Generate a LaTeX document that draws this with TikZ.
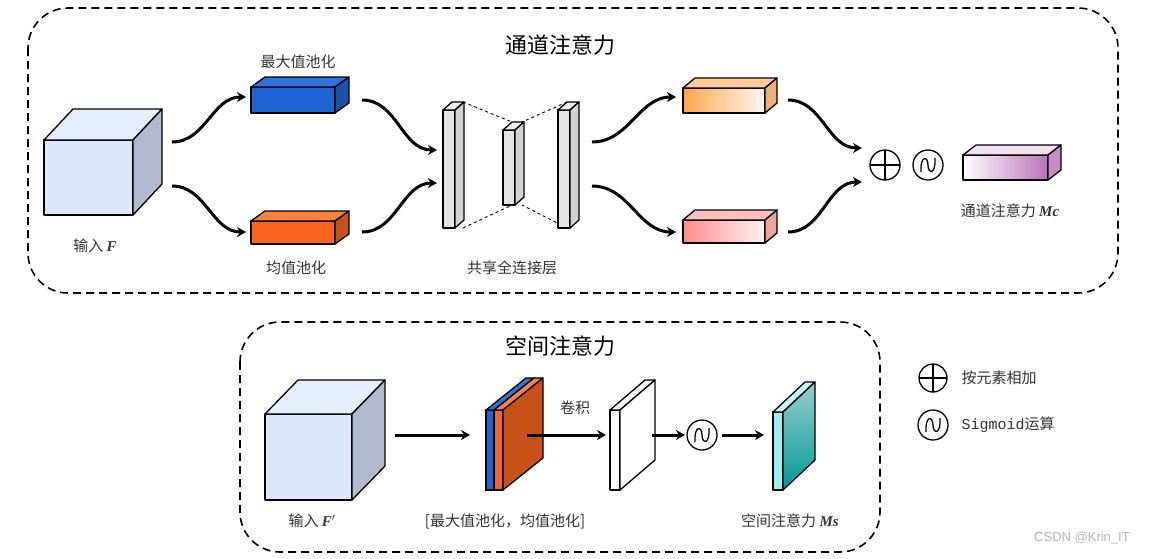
\documentclass[tikz,border=0pt]{standalone}
\usepackage{fontspec}
\setmainfont{Liberation Serif}
\newfontfamily\cjk{Noto Sans CJK SC}
\usetikzlibrary{arrows.meta,calc}
\definecolor{cubef}{RGB}{220,232,250}
\definecolor{cubet}{RGB}{228,238,252}
\definecolor{cubes}{RGB}{176,186,204}
\definecolor{bluef}{RGB}{30,100,210}
\definecolor{bluet}{RGB}{45,115,220}
\definecolor{blues}{RGB}{25,80,170}
\definecolor{oranf}{RGB}{250,100,30}
\definecolor{orant}{RGB}{255,130,60}
\definecolor{orans}{RGB}{200,80,25}
\newcommand\cub[9]{%
 \draw[line width=1.3pt,line join=round,#7] (#1,#2) rectangle (#3,#4);
 \draw[line width=1.3pt,line join=round,fill=#8] (#1,#2)--({#1+#5},{#2-#6})--({#3+#5},{#2-#6})--(#3,#2)--cycle;
 \draw[line width=1.3pt,line join=round,#9] (#3,#2)--({#3+#5},{#2-#6})--({#3+#5},{#4-#6})--(#3,#4)--cycle;}
\newcommand\sigm[1]{%
 \draw[line width=1.3pt] (#1) circle (15);
 \draw[line width=1.3pt] ($(#1)+(-7,7)$) .. controls ($(#1)+(-8,-10)$) and ($(#1)+(0,-9)$) .. (#1) .. controls ($(#1)+(0,9)$) and ($(#1)+(8,10)$) .. ($(#1)+(7,-7)$);}
\newcommand\oplusc[2]{%
 \draw[line width=1.3pt] (#1) circle (#2);
 \draw[line width=1.3pt] ($(#1)+(-#2,0)$)--($(#1)+(#2,0)$) ($(#1)+(0,-#2)$)--($(#1)+(0,#2)$);}
\newcommand\mi[1]{{\rmfamily\bfseries\itshape #1}}
\begin{document}
\begin{tikzpicture}[x=1pt,y=-1pt,
 arr/.style={line width=3pt,-{Stealth[length=9pt,width=10pt]}},
 lab/.style={font=\cjk\fontsize{15}{15}\selectfont,text=black!80},
 ttl/.style={font=\cjk\fontsize{22}{22}\selectfont},
 frame/.style={line width=1.6pt,dash pattern=on 8pt off 5pt,rounded corners=40pt}]
\useasboundingbox (0,0) rectangle (1160,558);
\draw[frame] (28,8) rectangle (1118,293);
\node[ttl] (t1) at (560,45) {通道注意力};
% cube F
\cub{44}{140}{133}{215}{29}{31}{fill=cubef}{cubet}{fill=cubes}
\node[lab] (lF) at (95,246) {输入 \mi{F}};
% pooling bars
\cub{251}{87}{335}{113}{14}{10}{fill=bluef}{bluet}{fill=blues}
\node[lab] (lmax) at (298,62) {最大值池化};
\cub{251}{221}{335}{244}{14}{10}{fill=oranf}{orant}{fill=orans}
\node[lab] (lavg) at (296,268) {均值池化};
% FC layers
\draw[dashed,line width=0.9pt] (463,102)--(512,122) (463,228)--(512,205) (567,102)--(522,122) (567,228)--(522,205);
\cub{443}{110}{455}{228}{9}{8}{fill=gray!22}{gray!15}{fill=gray!35}
\cub{503}{130}{515}{205}{9}{8}{fill=gray!22}{gray!15}{fill=gray!35}
\cub{558}{110}{570}{228}{9}{8}{fill=gray!22}{gray!15}{fill=gray!35}
\node[lab] (lfc) at (512,268) {共享全连接层};
% outputs of MLP
\cub{683}{88}{765}{113}{12}{10}{left color=orange!70,right color=orange!5}{orange!40}{fill=orange!50!brown!60}
\cub{683}{220}{765}{243}{12}{10}{left color=red!45,right color=red!5}{red!25}{fill=red!40!brown!50}
\coordinate (plus) at (885,165);
\coordinate (sg) at (928,165);
\oplusc{plus}{15}
\sigm{sg}
\cub{963}{155}{1048}{180}{13}{10}{left color=white,right color=violet!55}{violet!12}{fill=violet!45}
\node[lab] (lmc) at (1010,211) {通道注意力 \mi{Mc}};
% curvy arrows
\coordinate (a1) at (172,142); \coordinate (b1) at (246,97);
\coordinate (a2) at (172,186); \coordinate (b2) at (246,232);
\coordinate (a3) at (362,100); \coordinate (b3) at (437,150);
\coordinate (a4) at (362,232); \coordinate (b4) at (437,183);
\coordinate (a5) at (592,142); \coordinate (b5) at (676,97);
\coordinate (a6) at (592,186); \coordinate (b6) at (676,232);
\coordinate (a7) at (788,100); \coordinate (b7) at (862,148);
\coordinate (a8) at (788,232); \coordinate (b8) at (862,182);
\foreach \i in {1,...,8}{\draw[arr] (a\i) to[out=0,in=180] (b\i);}
% spatial
\draw[frame] (240,322) rectangle (880,552);
\node[ttl] (t2) at (560,346) {空间注意力};
\cub{265}{414}{352}{500}{33}{34}{fill=cubef}{cubet}{fill=cubes}
\node[lab] (lF2) at (312,521) {输入 \mi{F$'$}};
\coordinate (c1) at (395,435); \coordinate (c2) at (470,435);
\draw[arr] (c1)--(c2);
% stacked slab
\draw[line width=1.3pt,fill=bluef] (486,410) rectangle (494,490);
\draw[line width=1.3pt,fill=bluet] (486,410)--(526,378)--(534,378)--(494,410)--cycle;
\cub{494}{410}{503}{490}{40}{32}{fill=oranf}{orant}{fill=orans}
\node[lab] (lpool) at (505,521) {[最大值池化，均值池化]};
\coordinate (c3) at (527,435); \coordinate (c4) at (606,435);
\draw[arr] (c3)--(c4);
\node[lab] (lconv) at (575,408) {卷积};
\cub{610}{410}{620}{490}{35}{30}{fill=white}{white}{fill=white}
\coordinate (c5) at (652,435); \coordinate (c6) at (685,435);
\draw[arr] (c5)--(c6);
\coordinate (sg2) at (702,435);
\sigm{sg2}
\coordinate (c7) at (722,435); \coordinate (c8) at (764,435);
\draw[arr] (c7)--(c8);
\cub{773}{412}{783}{490}{32}{30}{fill=teal!30!cyan!40}{teal!15!cyan!25}{top color=teal!40,bottom color=teal!80!cyan}
\node[lab] (lms) at (790,521) {空间注意力 \mi{Ms}};
% legend
\coordinate (lg1) at (933,378); \coordinate (lg2) at (933,425);
\oplusc{lg1}{14}
\sigm{lg2}
\node[lab,anchor=west] (tl1) at (958,378) {按元素相加};
\node[lab,anchor=west] (tl2) at (958,425) {\fontspec{Liberation Mono}Sigmoid\cjk 运算};
\node[font=\fontspec{Liberation Sans}\fontsize{13}{13}\selectfont,text=gray!60] (wm) at (1082,538) {CSDN @Krin\_IT};
\end{tikzpicture}
\end{document}
